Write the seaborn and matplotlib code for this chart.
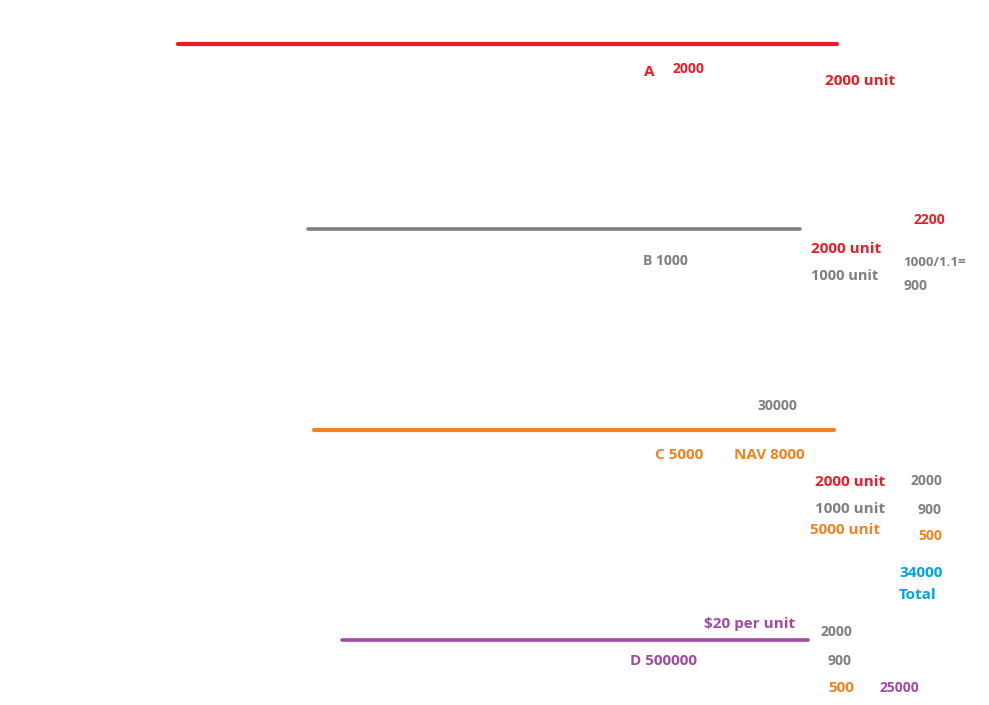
import matplotlib
matplotlib.use("Agg")
import matplotlib.pyplot as plt
import seaborn as sns
import pandas as pd

# horizontal strokes (pixel space of the sketch)
line_names = ["A", "B", "C", "D"]
line_x0 = [178, 308, 314, 342]
line_x1 = [837, 800, 834, 808]
line_y = [44, 229, 430, 640]
line_colors = ["#ed1c24", "#7f7f7f", "#f58220", "#a349a4"]
line_widths = [3.0, 2.6, 3.0, 2.6]

RED, GRAY, ORANGE, BLUE, PURPLE = "#ed1c24", "#7f7f7f", "#f58220", "#00a2e8", "#a349a4"

labels = ["A", "2000", "2000 unit",
          "2200", "2000 unit", "B 1000", "1000 unit", "1000/1.1=", "900",
          "30000", "C 5000", "NAV 8000",
          "2000 unit", "2000", "1000 unit", "900", "5000 unit", "500",
          "34000", "Total",
          "$20 per unit", "2000", "D 500000", "900", "500", "25000"]
label_x = [644, 673, 825,
           914, 811, 643, 811, 903, 903,
           757, 655, 734,
           815, 911, 815, 917, 810, 918,
           899, 899,
           704, 821, 630, 827, 828, 880]
label_y = [72, 69, 81,
           220, 249, 261, 276, 263, 286,
           406, 455, 455,
           482, 481, 509, 510, 530, 536,
           573, 595,
           624, 632, 661, 661, 688, 688]
label_colors = [RED, RED, RED,
                RED, RED, GRAY, GRAY, GRAY, GRAY,
                GRAY, ORANGE, ORANGE,
                RED, GRAY, GRAY, GRAY, ORANGE, ORANGE,
                BLUE, BLUE,
                PURPLE, GRAY, PURPLE, GRAY, ORANGE, PURPLE]
label_sizes = [11, 10, 11,
               10, 11, 10, 10.5, 9.5, 10,
               10, 11, 11,
               11, 10, 11, 10, 11, 10,
               11, 11,
               11, 10, 11, 10, 11, 10]

sns.set_theme(style="white")
plt.rcParams["font.family"] = ["Open Sans", "DejaVu Sans"]

fig = plt.figure(figsize=(9.89, 7.05), dpi=100)
ax = fig.add_axes([0, 0, 1, 1])

rows = []
for n, x0, x1, y in zip(line_names, line_x0, line_x1, line_y):
    rows.append({"name": n, "x": x0, "y": y})
    rows.append({"name": n, "x": x1, "y": y})
df = pd.DataFrame(rows)

for n, c, lw in zip(line_names, line_colors, line_widths):
    sns.lineplot(data=df[df["name"] == n], x="x", y="y", color=c, linewidth=lw,
                 solid_capstyle="round", ax=ax, legend=False)

for t, x, y, c, s in zip(labels, label_x, label_y, label_colors, label_sizes):
    ax.text(x, y, t, color=c, fontsize=s, fontweight="bold", ha="left", va="center")

ax.set_xlim(0, 989)
ax.set_ylim(705, 0)
ax.axis("off")
fig.savefig("out.png", dpi=100, facecolor="white")
